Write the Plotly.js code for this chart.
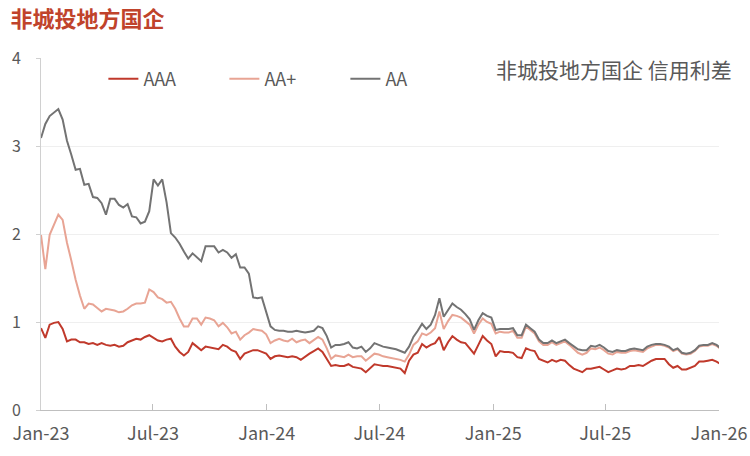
<!DOCTYPE html>
<html>
<head>
<meta charset="utf-8">
<script src="https://cdn.plot.ly/plotly-3.0.1.min.js"></script>
<style>
  html, body { margin: 0; padding: 0; background: #fff; }
  #chart { width: 750px; height: 456px; }
</style>
</head>
<body>
<div id="chart"></div>
<script>
// 非城投地方国企 信用利差 (weekly)

var startDate = "2023-01-01";
var seriesNames = ["AAA", "AA+", "AA"];

var aaa = [0.93,0.82,0.97,0.99,1.00,0.92,0.78,0.80,0.80,0.77,
  0.77,0.75,0.76,0.74,0.76,0.74,0.73,0.74,0.72,0.73,
  0.77,0.79,0.81,0.80,0.83,0.85,0.82,0.79,0.78,0.80,
  0.81,0.72,0.66,0.62,0.66,0.76,0.72,0.68,0.72,0.71,
  0.70,0.69,0.74,0.72,0.68,0.66,0.58,0.64,0.66,0.68,
  0.68,0.66,0.64,0.58,0.61,0.62,0.61,0.60,0.61,0.60,
  0.57,0.61,0.64,0.67,0.70,0.66,0.58,0.50,0.51,0.50,
  0.50,0.52,0.49,0.48,0.47,0.43,0.47,0.52,0.51,0.50,
  0.50,0.49,0.48,0.47,0.42,0.56,0.63,0.65,0.75,0.71,
  0.74,0.76,0.83,0.68,0.77,0.84,0.80,0.77,0.76,0.70,
  0.64,0.74,0.84,0.79,0.75,0.61,0.67,0.66,0.66,0.65,
  0.60,0.59,0.70,0.68,0.67,0.58,0.56,0.54,0.57,0.55,
  0.57,0.56,0.51,0.47,0.45,0.43,0.47,0.47,0.48,0.49,
  0.46,0.43,0.45,0.47,0.46,0.47,0.50,0.50,0.51,0.50,
  0.53,0.56,0.58,0.58,0.58,0.52,0.48,0.50,0.46,0.46,
  0.48,0.50,0.55,0.55,0.56,0.57,0.55,0.52];

var aaPlus = [1.99,1.60,1.99,2.10,2.22,2.16,1.90,1.70,1.48,1.30,
  1.15,1.21,1.20,1.16,1.12,1.15,1.14,1.13,1.11,1.12,
  1.15,1.19,1.21,1.21,1.22,1.37,1.34,1.28,1.26,1.22,
  1.23,1.15,1.04,0.95,0.95,1.04,1.04,0.97,1.05,1.04,
  1.02,0.95,0.99,0.94,0.87,0.89,0.80,0.85,0.88,0.92,
  0.91,0.90,0.86,0.76,0.79,0.81,0.79,0.78,0.81,0.77,
  0.79,0.80,0.76,0.80,0.83,0.80,0.70,0.58,0.62,0.61,
  0.60,0.63,0.60,0.61,0.61,0.56,0.60,0.64,0.63,0.61,
  0.60,0.59,0.58,0.57,0.55,0.63,0.74,0.78,0.87,0.85,
  0.88,0.93,1.12,0.92,1.01,1.08,1.07,1.05,1.01,0.97,
  0.87,0.97,1.04,1.00,0.98,0.87,0.89,0.88,0.88,0.90,
  0.82,0.82,0.95,0.91,0.87,0.78,0.74,0.74,0.77,0.74,
  0.76,0.78,0.74,0.69,0.65,0.63,0.65,0.70,0.69,0.71,
  0.68,0.64,0.63,0.66,0.65,0.65,0.67,0.68,0.67,0.66,
  0.70,0.72,0.74,0.74,0.73,0.71,0.67,0.69,0.64,0.63,
  0.64,0.67,0.72,0.73,0.73,0.75,0.73,0.69];

var aa = [3.09,3.25,3.34,3.38,3.42,3.30,3.06,2.90,2.73,2.74,
  2.56,2.57,2.42,2.41,2.35,2.22,2.40,2.40,2.33,2.30,
  2.34,2.20,2.19,2.12,2.14,2.26,2.62,2.55,2.62,2.36,
  2.01,1.96,1.89,1.80,1.72,1.78,1.74,1.69,1.86,1.86,
  1.86,1.79,1.82,1.79,1.73,1.77,1.62,1.62,1.55,1.28,
  1.27,1.28,1.10,0.95,0.91,0.90,0.90,0.89,0.89,0.90,
  0.89,0.88,0.89,0.90,0.95,0.93,0.84,0.71,0.74,0.74,
  0.75,0.77,0.71,0.70,0.72,0.66,0.70,0.76,0.74,0.72,
  0.71,0.70,0.69,0.67,0.65,0.72,0.83,0.90,0.98,0.92,
  0.97,1.08,1.27,1.06,1.13,1.21,1.17,1.14,1.09,1.03,
  0.91,1.02,1.10,1.07,1.05,0.91,0.92,0.92,0.92,0.93,
  0.85,0.85,0.97,0.93,0.89,0.80,0.76,0.76,0.79,0.76,
  0.78,0.80,0.76,0.72,0.69,0.68,0.68,0.73,0.72,0.74,
  0.71,0.67,0.66,0.68,0.67,0.67,0.69,0.70,0.69,0.68,
  0.72,0.74,0.75,0.75,0.74,0.72,0.68,0.70,0.65,0.64,
  0.65,0.68,0.73,0.74,0.74,0.76,0.74,0.70];

var tickDates = ["2023-01-01","2023-07-01","2024-01-01","2024-07-01","2025-01-01","2025-07-01","2026-01-01"];
var tickLabels = ["Jan-23","Jul-23","Jan-24","Jul-24","Jan-25","Jul-25","Jan-26"];

// weekly dates
var dates = [];
var d0 = new Date(startDate + "T00:00:00Z");
for (let i = 0; i < aa.length; i++) {
    var d = new Date(d0.getTime() + i * 7 * 86400000);
    dates.push(d.toISOString().slice(0, 10));
}

var font = '"Noto Sans CJK SC", "Noto Sans", sans-serif';

var trace1 = {
    x: dates, y: aaa, name: seriesNames[0], type: "scatter", mode: "lines",
    line: {color: "#C0392B", width: 2}
};
var trace2 = {
    x: dates, y: aaPlus, name: seriesNames[1], type: "scatter", mode: "lines",
    line: {color: "#E8A494", width: 2}
};
var trace3 = {
    x: dates, y: aa, name: seriesNames[2], type: "scatter", mode: "lines",
    line: {color: "#737373", width: 2}
};

var layout = {
    width: 750,
    height: 456,
    paper_bgcolor: "#fff",
    plot_bgcolor: "#fff",
    margin: {l: 41, r: 31, t: 58, b: 46},
    font: {family: font, color: "#595959", size: 15},
    title: {
        text: "<b>非城投地方国企</b>",
        font: {family: font, size: 22, color: "#C0432B"},
        xref: "container", x: 0.014, xanchor: "left",
        yref: "container", y: 0.957, yanchor: "middle"
    },
    showlegend: true,
    legend: {
        orientation: "h",
        x: 0.092, xanchor: "left",
        y: 0.94, yanchor: "middle",
        entrywidth: 76,
        bgcolor: "rgba(0,0,0,0)",
        font: {family: font, size: 18, color: "#595959"}
    },
    xaxis: {
        type: "date",
        range: ["2023-01-01", "2026-01-01"],
        tickvals: tickDates,
        ticktext: tickLabels,
        ticks: "inside",
        ticklen: 6,
        tickcolor: "#bfbfbf",
        ticklabelstandoff: 7,
        showline: true,
        linecolor: "#bfbfbf",
        showgrid: false,
        zeroline: false,
        tickfont: {family: font, size: 18, color: "#595959"}
    },
    yaxis: {
        range: [0, 4],
        dtick: 1,
        showline: true,
        linecolor: "#d0d0d0",
        gridcolor: "#efefef",
        zeroline: false,
        ticks: "outside",
        ticklen: 4,
        tickcolor: "#d0d0d0",
        ticklabelstandoff: 12,
        tickfont: {family: font, size: 16, color: "#595959"}
    },
    annotations: [{
        text: "非城投地方国企 信用利差",
        xref: "paper", yref: "paper",
        x: 1.022, xanchor: "right",
        y: 0.97, yanchor: "middle",
        showarrow: false,
        font: {family: font, size: 21, color: "#595959"}
    }]
};

Plotly.newPlot("chart", [trace1, trace2, trace3], layout, {displayModeBar: false, staticPlot: true});
</script>
</body>
</html>
